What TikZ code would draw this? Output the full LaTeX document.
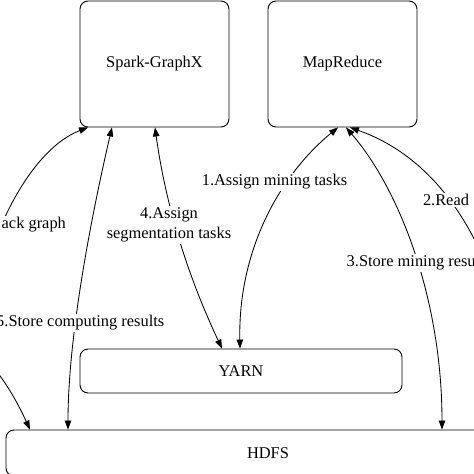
\documentclass[tikz,border=0pt]{standalone}
\usepackage{fontspec}
\setmainfont{Liberation Serif}
\usetikzlibrary{arrows.meta}
\begin{document}
\begin{tikzpicture}[x=1pt,y=-1pt,
  font=\fontsize{16.4}{20.5}\selectfont,
  box/.style={draw, line width=0.9pt, rounded corners=8pt, inner sep=0pt},
  lbl/.style={fill=white, inner sep=1.5pt},
  conn/.style={line width=0.85pt},
  tip/.style={-{Triangle[length=9pt,width=6.5pt]}},
  tips/.style={{Triangle[length=9pt,width=6.5pt]}-{Triangle[length=9pt,width=6.5pt]}}]
\useasboundingbox (0,0) rectangle (474,474);
\clip (0,0) rectangle (474,474);
% boxes
\node[box, minimum width=149pt, minimum height=126pt] (spark) at (154.5,64) {Spark-GraphX};
\node[box, minimum width=149pt, minimum height=126pt] (mr) at (342.5,64) {MapReduce};
\node[box, minimum width=322pt, minimum height=44pt] (yarn) at (241,371) {YARN};
\node[box, minimum width=524pt, minimum height=46pt] (hdfs) at (268,453) {HDFS};
% free ends
\coordinate (aL) at (0,228);
\coordinate (cL) at (-6,368);
\coordinate (gR) at (485,262);
% connectors
\draw[conn,tip] (aL) .. controls (25,170) and (55,140) .. (88,0 |- spark.south);
\draw[conn,tips] (112,0 |- spark.south) .. controls (95,200) and (68,330) .. (68,0 |- hdfs.north);
\draw[conn,tip] (cL) .. controls (10,388) and (20,408) .. (30,0 |- hdfs.north);
\draw[conn,tips] (155,0 |- spark.south) .. controls (165,200) and (185,270) .. (222,0 |- yarn.north);
\draw[conn,tips] (338,0 |- mr.south) .. controls (280,175) and (238,250) .. (240,0 |- yarn.north);
\draw[conn,tips] (346,0 |- mr.south) .. controls (400,190) and (442,300) .. (442,0 |- hdfs.north);
\draw[conn,tip] (gR) .. controls (450,180) and (400,145) .. (350,0 |- mr.south);
% labels
\node[lbl] (l1) at (274.5,182) {1.Assign mining tasks};
\node[lbl] (l2) at (446,200) {2.Read};
\node[lbl, anchor=west] (l3) at (345,263) {3.Store mining resu};
\node[lbl, align=center] (l4) at (169,225) {4.Assign\\segmentation tasks};
\node[lbl, anchor=east] (l5) at (166,323) {5.Store computing results};
\node[lbl, anchor=west] (l6) at (0,225) {ack graph};
\end{tikzpicture}
\end{document}
